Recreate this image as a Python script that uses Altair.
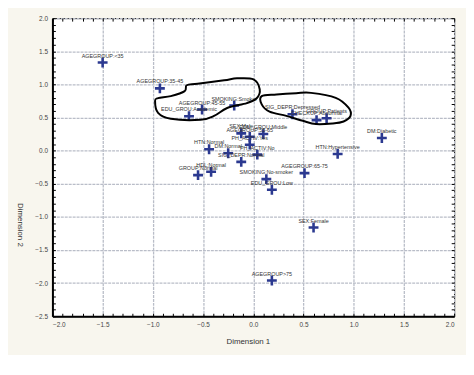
import altair as alt
import pandas as pd

# ---- category points (Dimension 1, Dimension 2) ----
labels = [
    "AGEGROUP:<35", "AGEGROUP:35-45", "AGEGROUP:45-55", "EDU_GROU:Academic",
    "SMOKING:Smoker", "SIG_DEPR:Depressed", "CHECKUP:Abnormal", "GROUP:Patients",
    "DM:Diabetic", "HTN:Hypertensive", "AGEGROUP:65-75", "SMOKING:No-smoker",
    "EDU_GROU:Low", "SEX:Female", "AGEGROUP>75", "HTN:Normal", "DM:Normal",
    "GROUP:Normal", "HDL:Normal", "SIG_DEPR:Normal", "PH_ACTIV:No", "SEX:Male",
    "EDU_GROU:Middle", "AGEGROUP:55-65", "PH_ACTIV:Yes",
]
dim1 = [-1.50, -0.93, -0.51, -0.64, -0.19, 0.39, 0.63, 0.73, 1.28, 0.84, 0.51,
        0.13, 0.185, 0.60, 0.185, -0.44, -0.25, -0.55, -0.42, -0.12, 0.04,
        -0.12, 0.10, -0.035, -0.035]
dim2 = [1.33, 0.94, 0.62, 0.52, 0.68, 0.55, 0.46, 0.49, 0.19, -0.05, -0.34,
        -0.43, -0.59, -1.16, -1.96, 0.02, -0.04, -0.37, -0.32, -0.17, -0.06,
        0.26, 0.25, 0.21, 0.09]

# ---- hand-drawn loops (annotation outlines, data units) ----
loop1_x = [-0.663, -0.555, -0.290, -0.162, 0.002, 0.064, 0.034, -0.064, -0.260,
           -0.391, -0.526, -0.821, -0.948, -0.978, -0.948, -0.821, -0.683]
loop1_y = [0.987, 1.009, 1.061, 1.091, 1.076, 0.927, 0.791, 0.718, 0.643,
           0.524, 0.465, 0.480, 0.569, 0.748, 0.793, 0.823, 0.898]
loop2_x = [0.084, 0.231, 0.428, 0.575, 0.821, 0.948, 0.968, 0.899, 0.788,
           0.624, 0.493, 0.329, 0.162, 0.084]
loop2_y = [0.823, 0.848, 0.867, 0.872, 0.797, 0.648, 0.524, 0.440, 0.410,
           0.401, 0.450, 0.524, 0.589, 0.699]

# ---- axis ticks ----
x_major = [-2.0, -1.5, -1.0, -0.5, 0.0, 0.5, 1.0, 1.5, 2.0]
y_major = [-2.5, -2.0, -1.5, -1.0, -0.5, 0.0, 0.5, 1.0, 1.5, 2.0]
x_minor = [round(-2.0 + 0.1 * i, 1) for i in range(41)]
y_minor = [round(-2.5 + 0.1 * i, 1) for i in range(46)]

pts = pd.DataFrame({"label": labels, "d1": dim1, "d2": dim2})
loops = pd.DataFrame({
    "loop": ["a"] * len(loop1_x) + ["b"] * len(loop2_x),
    "lx": loop1_x + loop2_x,
    "ly": loop1_y + loop2_y,
    "ord": list(range(len(loop1_x))) + list(range(len(loop2_x))),
})

xs = alt.Scale(domain=[-2.0, 2.0], nice=False, zero=False)
ys = alt.Scale(domain=[-2.5, 2.0], nice=False, zero=False)

GRID = dict(grid=True, gridColor="#b9bdc8", gridWidth=1.3, gridDash=[3, 1])
LAB = dict(labelFontSize=6.5, labelColor="#444444", labelFont="Liberation Sans")


def tick_axis(orient, vals):
    return alt.Axis(orient=orient, values=vals, labels=False, grid=False,
                    domain=False, ticks=True, tickSize=3, tickWidth=1,
                    tickColor="black", offset=-3, title="")


x_main = alt.Axis(orient="bottom", values=x_major, format=".1f", ticks=False,
                  tickSize=0, domain=True, domainColor="black", domainWidth=2,
                  labelPadding=5, title="Dimension 1", titleFontSize=8,
                  titleFontWeight="normal", titleColor="#333333",
                  titleFont="Liberation Sans", titleX=198, titleY=26,
                  titleBaseline="middle", **GRID, **LAB)
y_main = alt.Axis(orient="left", values=y_major, format=".1f", ticks=False,
                  tickSize=0, domain=True, domainColor="black", domainWidth=2,
                  labelPadding=5, title="Dimension 2", titleFontSize=8,
                  titleFontWeight="normal", titleColor="#333333",
                  titleFont="Liberation Sans", titleAngle=90, titleX=-33,
                  titleY=209, titleAlign="center", titleBaseline="middle",
                  **GRID, **LAB)

points = alt.Chart(pts).mark_point(
    shape="M-1,0H1M0,-1V1", filled=False, size=100, strokeWidth=2.6,
    color="#2b3990", opacity=1
).encode(
    x=alt.X("d1:Q", scale=xs, axis=x_main),
    y=alt.Y("d2:Q", scale=ys, axis=y_main),
)

texts = alt.Chart(pts).mark_text(
    align="center", baseline="bottom", dy=-4, fontSize=5.5,
    font="Liberation Sans", color="#333333"
).encode(
    x=alt.X("d1:Q", scale=xs, axis=tick_axis("bottom", x_minor)),
    y=alt.Y("d2:Q", scale=ys, axis=tick_axis("left", y_minor)),
    text="label:N",
)

loop_lines = alt.Chart(loops).mark_line(
    color="black", strokeWidth=2, interpolate="cardinal-closed"
).encode(
    x=alt.X("lx:Q", scale=xs, axis=tick_axis("top", x_minor)),
    y=alt.Y("ly:Q", scale=ys, axis=tick_axis("right", y_minor)),
    detail="loop:N",
    order="ord:Q",
)

chart = alt.layer(points, texts, loop_lines).resolve_axis(
    x="independent", y="independent"
).properties(
    width=407, height=302,
    autosize=alt.AutoSizeParams(type="none"),
    padding={"left": 45, "top": 8, "right": 12, "bottom": 37},
    background="#f8f6ee",
).configure_view(stroke="black", strokeWidth=1, fill="white")

chart.save("out.html", embed_options={"renderer": "svg", "actions": False})
